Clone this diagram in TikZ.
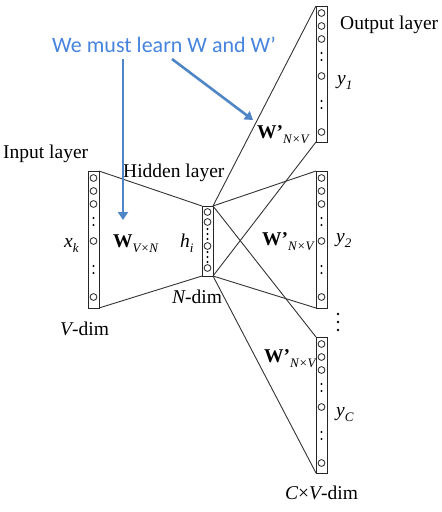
\documentclass[tikz,border=0pt]{standalone}
\usepackage{fontspec}
\setmainfont{Liberation Serif}
\newfontfamily\notefont{Carlito}
\usetikzlibrary{arrows.meta}
\definecolor{notecol}{RGB}{70,132,222}
\definecolor{arrowcol}{RGB}{78,134,200}
\newcommand\lowsub[1]{\raisebox{-5pt}{\fontsize{13}{13}\selectfont\itshape #1}}
\begin{document}
\begin{tikzpicture}[x=1pt,y=-1pt,
  layerbox/.style={draw=black!85, line width=1pt, minimum width=11pt, inner sep=0pt, outer sep=0pt, fill=white},
  unit/.style={draw=black!85, line width=0.8pt, fill=white},
  link/.style={draw=black!80, line width=0.9pt},
  lbl/.style={anchor=base west, inner sep=0pt, font=\fontsize{19.5}{22}\selectfont},
  note/.style={anchor=base west, inner sep=0pt, font=\notefont\fontsize{22}{26}\selectfont, text=notecol},
  notearrow/.style={draw=arrowcol, line width=2.6pt, -{Triangle[width=10pt,length=8pt]}}
]
\useasboundingbox (0,0) rectangle (442,512);

% layer boxes
\node[layerbox, minimum height=137pt] (in)  at (93.5,239.5) {};
\node[layerbox, minimum height=70pt]  (hid) at (207.5,241) {};
\node[layerbox, minimum height=136pt] (o1)  at (321.5,74) {};
\node[layerbox, minimum height=137pt] (o2)  at (321.5,239.5) {};
\node[layerbox, minimum height=136pt] (o3)  at (321.5,405) {};

% connectors
\draw[link] (in.north east) -- (hid.north west);
\draw[link] (in.south east) -- (hid.south west);
\foreach \o in {o1,o2,o3}{
  \draw[link] (hid.north east) -- (\o.north west);
  \draw[link] (hid.south east) -- (\o.south west);
}

% units in big layers
\foreach \b in {in,o1,o2,o3}{
  \foreach \o in {7,20,33,70,126}
    \draw[unit] (\b.north) ++(0,\o) circle (3.4pt);
  \foreach \o in {47,54,95,102}
    \fill[black] (\b.north) ++(0,\o) circle (1.2pt);
}
% hidden units
\foreach \o in {6,16,40,62}
  \draw[unit] (hid.north) ++(0,\o) circle (3.4pt);
\foreach \o in {23,28,33,46,51,56}
  \fill[black] (hid.north) ++(0,\o) circle (1.1pt);

% ellipsis between output layers
\foreach \y in {314,322,330}
  \fill[black] (338,\y) circle (1.4pt);

% labels
\node[lbl] (tin)  at (3,158) {Input layer};
\node[lbl] (thid) at (123,177) {Hidden layer};
\node[lbl] (tout) at (340,29) {Output layer};
\node[lbl] (xk) at (64,247) {\itshape x\lowsub{k}};
\node[lbl] (wv) at (113,247) {\bfseries W\lowsub{\mdseries V×N}};
\node[lbl] (hi) at (180,247) {\itshape h\lowsub{i}};
\node[lbl] (vd) at (60,335) {{\itshape V}-dim};
\node[lbl] (nd) at (172,303) {{\itshape N}-dim};
\node[lbl] (w1) at (257,138) {\bfseries W’\lowsub{\mdseries N×V}};
\node[lbl] (w2) at (262,245) {\bfseries W’\lowsub{\mdseries N×V}};
\node[lbl] (w3) at (264,362) {\bfseries W’\lowsub{\mdseries N×V}};
\node[lbl] (y1) at (337,84) {\itshape y\lowsub{1}};
\node[lbl] (y2) at (336,242) {\itshape y\lowsub{2}};
\node[lbl] (yc) at (336,416) {\itshape y\lowsub{C}};
\node[lbl] (cv) at (285,499) {{\itshape C}×{\itshape V}-dim};

% note and arrows
\node[note] (nt) at (52,52) {We must learn W and W’};
\coordinate (a1s) at (123,59);
\coordinate (a1e) at (123,220);
\coordinate (a2s) at (172,59);
\coordinate (a2e) at (253,120);
\draw[notearrow] (a1s) -- (a1e);
\draw[notearrow] (a2s) -- (a2e);
\end{tikzpicture}
\end{document}
